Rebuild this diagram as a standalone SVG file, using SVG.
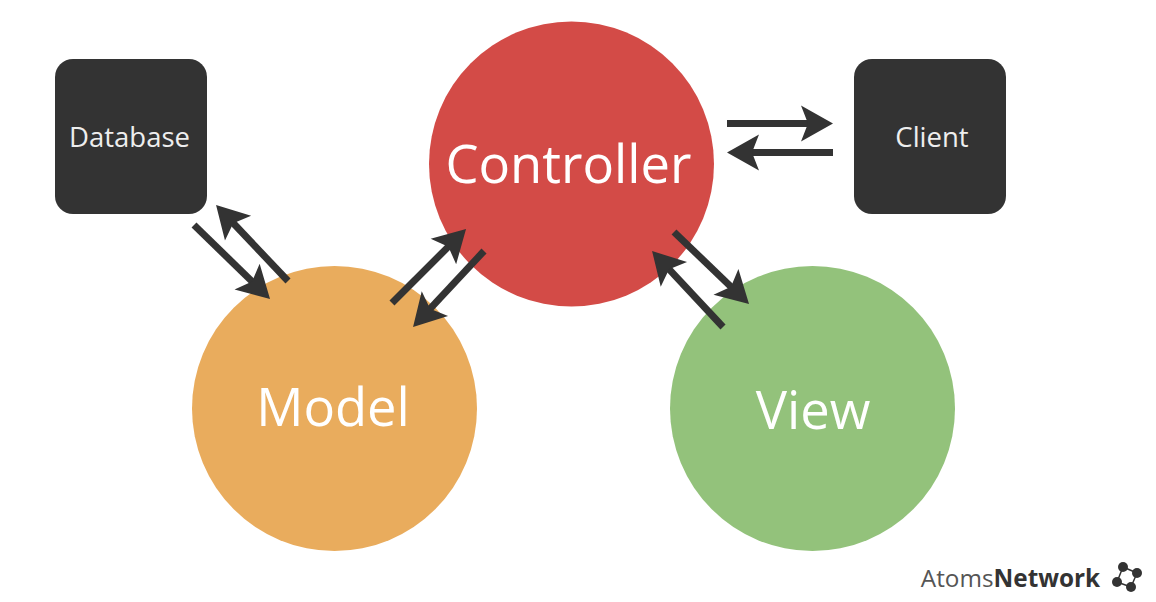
<svg xmlns="http://www.w3.org/2000/svg" width="1156" height="602" viewBox="0 0 1156 602">
<style>
text{font-family:"Open Sans","Liberation Sans",sans-serif;text-anchor:middle}
.big{font-size:52.500px;fill:#fff}
.small{font-size:27.500px;fill:#eee}
.box{fill:#333}
.arrow{fill:none;stroke:#333;stroke-width:7;marker-end:url(#head)}
</style>
<defs>
<marker id="head" markerUnits="userSpaceOnUse" markerWidth="40" markerHeight="40" refX="16" refY="20" orient="auto" viewBox="0 0 40 40" overflow="visible"><path d="M36 20L4 2L11 20L4 38Z" fill="#333"/></marker>
</defs>
<rect width="1156" height="602" fill="#fff"/>
<g id="controller"><circle cx="571.500" cy="164" r="142.500" fill="#d34b47"/><text class="big" x="568.500" y="183">Controller</text></g>
<g id="model"><circle cx="334.500" cy="408.500" r="142.500" fill="#e9ac5d"/><text class="big" x="333" y="426">Model</text></g>
<g id="view"><circle cx="812.500" cy="408.500" r="142.500" fill="#93c27b"/><text class="big" x="813" y="429">View</text></g>
<g id="database"><rect class="box" x="55" y="59" width="152" height="155" rx="18"/><text class="small" x="129.500" y="147">Database</text></g>
<g id="client"><rect class="box" x="854" y="59" width="152" height="155" rx="18"/><text class="small" x="932" y="147">Client</text></g>
<g id="connectors">
<path class="arrow" d="M727 123.500H813"/>
<path class="arrow" d="M833 152.500H747"/>
<path class="arrow" d="M194 225L255.700 285"/>
<path class="arrow" d="M288 281L229.800 219.500"/>
<path class="arrow" d="M392 303L451.900 243.100"/>
<path class="arrow" d="M484 251L426.700 312.400"/>
<path class="arrow" d="M674 232L734.600 290.200"/>
<path class="arrow" d="M723 327L665.700 265.600"/>
</g>
<g id="logo">
<text x="1010.500" y="587" font-size="24.300" fill="#555">Atoms<tspan font-weight="700" fill="#333">Network</tspan></text>
<path d="M1123 567L1137 573L1131 587L1117 582Z" fill="none" stroke="#333" stroke-width="1.500"/>
<circle cx="1123" cy="567" r="5" fill="#333"/><circle cx="1137" cy="573" r="5" fill="#333"/><circle cx="1117" cy="582" r="5" fill="#333"/><circle cx="1131" cy="587" r="5" fill="#333"/>
</g>
</svg>
